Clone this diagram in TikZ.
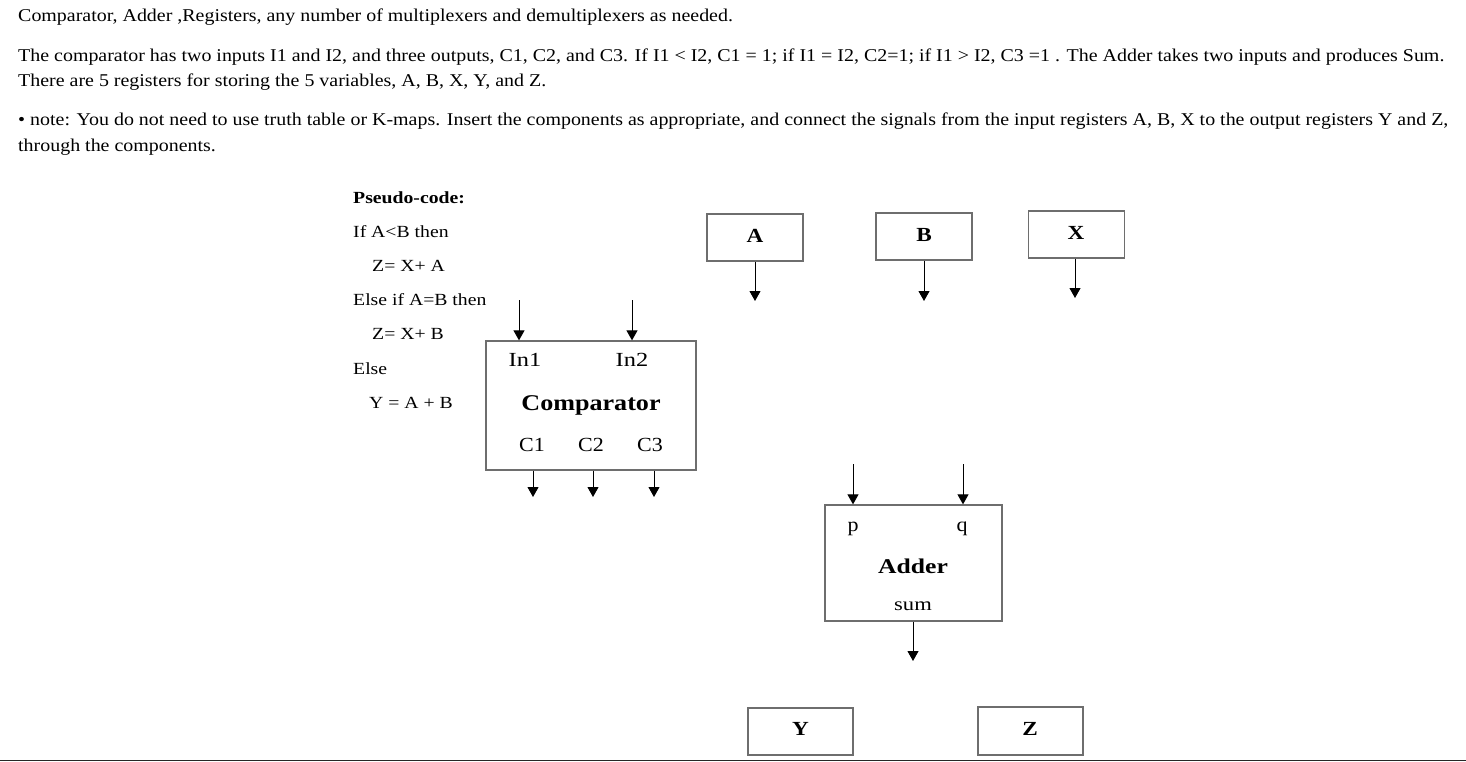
\documentclass[tikz,border=0pt]{standalone}
\usepackage{fontspec}
\setmainfont{Liberation Serif}
\newfontfamily\paraf[FakeStretch=1.108]{Liberation Serif}
\newfontfamily\diagf[FakeStretch=1.16]{Liberation Serif}
\newfontfamily\widef[FakeStretch=1.22]{Liberation Serif}
\newfontfamily\lblf[FakeStretch=1.1]{Liberation Serif}
\usetikzlibrary{arrows.meta}
\definecolor{boxgray}{RGB}{110,110,110}
\begin{document}
\begin{tikzpicture}[x=1pt,y=-1pt,
  txt/.style={anchor=base west, inner sep=0pt, font=\paraf\fontsize{18}{21}\selectfont},
  code/.style={anchor=base west, inner sep=0pt, font=\diagf\fontsize{17}{19}\selectfont},
  reg/.style={draw=boxgray, line width=1.3pt, minimum width=96pt, minimum height=47pt, inner sep=0pt},
  regt/.style={anchor=base, inner sep=0pt, font=\diagf\fontsize{20}{22}\selectfont\bfseries},
  blk/.style={draw=boxgray, line width=1.3pt, inner sep=0pt},
  lbl/.style={anchor=base, inner sep=0pt, font=\lblf\fontsize{20}{22}\selectfont},
  sig/.style={-{Triangle[width=11pt,length=10pt]}, line width=1pt}]
\useasboundingbox (0,0) rectangle (1466,762);
% paragraph text
\node[txt] (t1) at (18,22) {Comparator, Adder ,Registers, any number of multiplexers and demultiplexers as needed.};
\node[txt] (t2) at (18,62) {The comparator has two inputs I1 and I2, and three outputs, C1, C2, and C3. If I1 < I2, C1 = 1; if I1 = I2, C2=1; if I1 > I2, C3 =1 . The Adder takes two inputs and produces Sum.};
\node[txt] (t3) at (18,87) {There are 5 registers for storing the 5 variables, A, B, X, Y, and Z.};
\node[txt] (t4) at (18,126) {\textbullet{} note: You do not need to use truth table or K-maps. Insert the components as appropriate, and connect the signals from the input registers A, B, X to the output registers Y and Z,};
\node[txt] (t5) at (18,152) {through the components.};
% pseudo-code
\node[code, font=\diagf\fontsize{17}{19}\selectfont\bfseries] (p0) at (353,204) {Pseudo-code:};
\node[code] (p1) at (353,237) {If A<B then};
\node[code] (p2) at (372,271) {Z= X+ A};
\node[code] (p3) at (353,305) {Else if A=B then};
\node[code] (p4) at (372,339) {Z= X+ B};
\node[code] (p5) at (353,374) {Else};
\node[code] (p6) at (369,408) {Y = A + B};
% registers
\node[reg] (A) at (755,237.5) {};
\node[reg] (B) at (924,236.5) {};
\node[reg] (X) at (1076.5,234.5) {};
\node[reg, minimum width=105pt, minimum height=47pt] (Y) at (800.5,731.5) {};
\node[reg, minimum width=105pt, minimum height=48pt] (Z) at (1030.5,731) {};
\node[regt] (At) at (755,242) {A};
\node[regt] (Bt) at (924,241.5) {B};
\node[regt] (Xt) at (1076,239) {X};
\node[regt] (Yt) at (800.5,735.5) {Y};
\node[regt] (Zt) at (1030,735) {Z};
% comparator
\node[blk, minimum width=210pt, minimum height=129pt] (cmp) at (591,405.5) {};
\node[lbl, font=\widef\fontsize{20}{22}\selectfont] (in1) at (525,366) {In1};
\node[lbl, font=\widef\fontsize{20}{22}\selectfont] (in2) at (632,366) {In2};
\node[lbl, font=\diagf\fontsize{22.5}{24}\selectfont\bfseries] (cmpt) at (591,410) {Comparator};
\node[lbl] (c1) at (532,451) {C1};
\node[lbl] (c2) at (591,451) {C2};
\node[lbl] (c3) at (650,451) {C3};
% adder
\node[blk, minimum width=177pt, minimum height=116pt] (add) at (913.5,563) {};
\node[lbl] (ap) at (853,531) {p};
\node[lbl] (aq) at (962,531) {q};
\node[lbl, font=\widef\fontsize{21}{24}\selectfont\bfseries] (addt) at (913,573) {Adder};
\node[lbl, font=\widef\fontsize{18.5}{20}\selectfont] (asum) at (913,610) {sum};
% free ends
\coordinate (Ae) at (755,301);
\coordinate (Be) at (924,301);
\coordinate (Xe) at (1075,298);
\coordinate (i1s) at (519,300);
\coordinate (i2s) at (632,300);
\coordinate (o1e) at (533,497);
\coordinate (o2e) at (593,497);
\coordinate (o3e) at (654,497);
\coordinate (ps) at (853,464);
\coordinate (qs) at (963,464);
\coordinate (se) at (913,661);
% connectors
\draw[sig] (A.south) -- (Ae);
\draw[sig] (B.south) -- (Be);
\draw[sig] (X.south -| Xe) -- (Xe);
\draw[sig] (i1s) -- (i1s |- cmp.north);
\draw[sig] (i2s) -- (i2s |- cmp.north);
\draw[sig] (o1e |- cmp.south) -- (o1e);
\draw[sig] (o2e |- cmp.south) -- (o2e);
\draw[sig] (o3e |- cmp.south) -- (o3e);
\draw[sig] (ps) -- (ps |- add.north);
\draw[sig] (qs) -- (qs |- add.north);
\draw[sig] (add.south -| se) -- (se);
% bottom rule
\draw[line width=1.2pt, black!85] (0,760.5) -- (1466,760.5);
\end{tikzpicture}
\end{document}
